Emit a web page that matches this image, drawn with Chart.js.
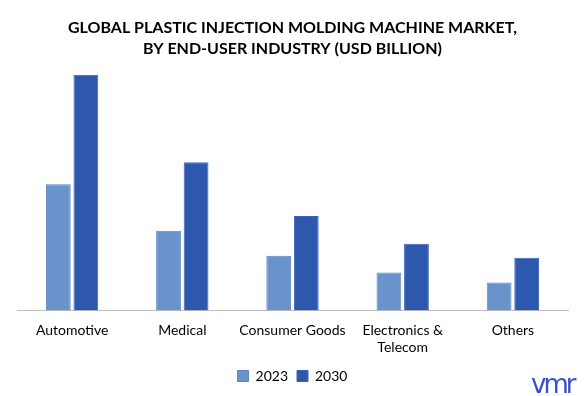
<!DOCTYPE html>
<html>
<head>
<meta charset="utf-8">
<script src="https://cdn.jsdelivr.net/npm/chart.js@4.4.0/dist/chart.umd.min.js"></script>
<style>
    body { margin: 0; background: #fff; }
    #wrap { position: relative; width: 587px; height: 396px; }
</style>
</head>
<body>
<div id="wrap"><canvas id="chartMarket" width="587" height="396"></canvas></div>
<script>
// data (USD billion, estimated)
const categories = ["Automotive", "Medical", "Consumer Goods", ["Electronics &", "Telecom"], "Others"];
const years = ["2023", "2030"];
const values2023 = [2.54, 1.60, 1.10, 0.76, 0.56];
const values2030 = [4.74, 2.98, 1.90, 1.34, 1.06];

const titleLines = ["GLOBAL PLASTIC INJECTION MOLDING MACHINE MARKET,", "BY END-USER INDUSTRY (USD BILLION)"];

// small "vmr" mark in the bottom right corner
const logoPlugin = {
    id: "logo",
    afterDraw(chart) {
        const ctx = chart.ctx;
        ctx.save();
        ctx.fillStyle = "#3850cc";
        ctx.font = "26px 'DejaVu Sans'";
        ctx.letterSpacing = "-3px";
        ctx.textAlign = "left";
        ctx.textBaseline = "alphabetic";
        ctx.fillText("vmr", 531, 393);
        ctx.restore();
    }
};

new Chart(document.getElementById("chartMarket"), {
    type: "bar",
    data: {
        labels: categories,
        datasets: [
            {
                label: years[0],
                data: values2023,
                backgroundColor: "#6a93cb",
                borderColor: "#5b86c4",
                borderWidth: 1,
                categoryPercentage: 0.5,
                barPercentage: 0.9
            },
            {
                label: years[1],
                data: values2030,
                backgroundColor: "#2e57ae",
                borderColor: "#3a63b8",
                borderWidth: 1,
                categoryPercentage: 0.5,
                barPercentage: 0.9
            }
        ]
    },
    options: {
        responsive: false,
        animation: false,
        layout: { padding: { left: 17, right: 19, bottom: 3 } },
        plugins: {
            title: {
                display: true,
                text: titleLines,
                color: "#000",
                font: { family: "Lato", size: 16, weight: "bold", lineHeight: 1.34 },
                padding: { top: 17, bottom: 2 }
            },
            legend: {
                position: "bottom",
                labels: {
                    color: "#000",
                    font: { family: "Lato", size: 14 },
                    boxWidth: 11,
                    boxHeight: 11,
                    padding: 9
                }
            },
            tooltip: { enabled: false }
        },
        scales: {
            x: {
                grid: { display: false },
                border: { color: "#bfbfbf", width: 1 },
                ticks: {
                    color: "#000",
                    font: { family: "Lato", size: 14 },
                    maxRotation: 0,
                    autoSkip: false,
                    padding: 4
                }
            },
            y: {
                display: false,
                min: 0,
                max: 5
            }
        }
    },
    plugins: [logoPlugin]
});
</script>
</body>
</html>
